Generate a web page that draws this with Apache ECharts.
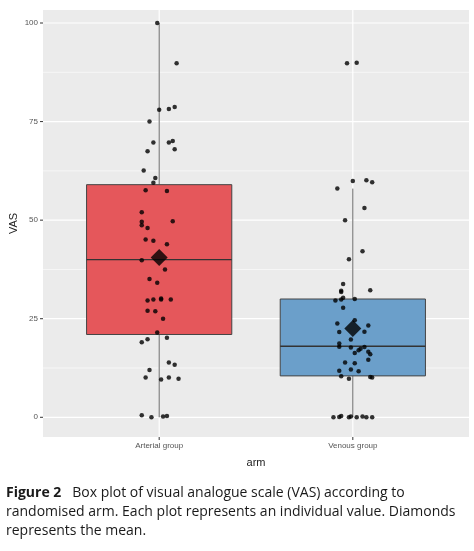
<!DOCTYPE html><html><head><meta charset="utf-8">
<script src="https://cdn.jsdelivr.net/npm/echarts@6/dist/echarts.min.js"></script>
<style>html,body{margin:0;padding:0;background:#fff}#c{width:474px;height:551px}</style></head><body><div id="c"></div>
<script>
const categories=['Arterial group','Venous group'];
const yTicks=[0,25,50,75,100];
const yMinor=[12.5,37.5,62.5,87.5];
// box stats: [x, min, q1, median, q3, max]
const boxStats=[[1,0,21,40,59,100],[2,0,10.5,18,30,58]];
const means=[[1,40.5],[2,22.5]];
const arterialPts=[[0.99,100],[1.09,89.8],[1.0,78],[1.05,78.2],[1.08,78.7],[0.95,75],[0.97,69.7],[1.05,69.7],[1.07,70.1],[0.94,67.5],[1.08,68],[0.92,62.6],[0.98,60.7],[0.97,59.5],[0.93,57.6],[1.04,57.4],[0.91,52],[1.07,49.7],[0.91,49.6],[0.91,48.7],[0.94,48],[0.93,45.1],[0.97,44.8],[1.04,43.9],[0.91,39.8],[1.03,37.5],[0.95,35.1],[0.99,34.1],[0.94,29.6],[0.97,29.9],[1.01,30.1],[1.01,29.9],[1.06,29.9],[0.94,27],[0.98,26.9],[1.02,25],[0.99,21.5],[0.91,19],[0.94,19.8],[1.04,20.2],[1.05,13.9],[1.08,13.3],[0.95,12],[0.93,10.1],[1.01,9.6],[1.05,10.1],[1.1,9.8],[0.91,0.5],[0.96,0],[1.02,0.2],[1.04,0.3]];
const venousPts=[[1.97,89.8],[2.02,89.9],[2.0,59.9],[2.07,60.1],[2.1,59.6],[1.92,58],[2.06,53.1],[1.96,50],[2.05,42.1],[1.98,40.1],[1.95,33.8],[1.94,32.1],[1.94,31.8],[2.09,32.2],[1.95,30.3],[1.94,29.9],[1.91,29.6],[2.01,30],[1.95,27.8],[1.92,23.8],[2.01,24.6],[2.08,23.3],[1.93,21.6],[2.06,21.7],[1.99,19.7],[1.93,18.7],[1.93,17.9],[1.99,17.7],[2.06,17.8],[2.04,17.4],[2.03,17],[2.08,16.6],[2.01,16.3],[2.09,16],[2.08,14.6],[1.96,13.9],[2.01,13.7],[1.99,12.1],[2.03,11.7],[1.93,11.8],[1.94,10.4],[1.98,9.8],[2.09,10.2],[2.1,10.1],[1.9,0],[1.93,0.1],[1.94,0.3],[1.98,0],[1.99,0.2],[2.02,0],[2.05,0.2],[2.07,0],[2.1,0]];
const boxColors=['#e5575b','#6b9fca'];

const chart=echarts.init(document.getElementById('c'),null,{renderer:'canvas'});
const gridData=[...yMinor.map(v=>['y',v,0.6]),...yTicks.map(v=>['y',v,1.2]),['x',1,1.2],['x',2,1.2]];
chart.setOption({
 animation:false,
 backgroundColor:'#fff',
 grid:{left:40,right:5,top:10,bottom:114,backgroundColor:'#ebebeb',show:true,borderWidth:0},
 xAxis:{type:'value',min:0.4,max:2.6,splitLine:{show:false},axisLine:{show:false},axisTick:{show:false},
   axisLabel:{show:false},name:'arm',nameLocation:'middle',nameGap:20,nameTextStyle:{fontFamily:'Liberation Sans',fontSize:11,color:'#222'}},
 yAxis:{type:'value',min:-5,max:103.3,splitLine:{show:false},axisLine:{show:false},axisTick:{show:false},
   axisLabel:{show:false},name:'VAS',nameLocation:'middle',nameGap:24,nameRotate:90,nameTextStyle:{fontFamily:'Liberation Sans',fontSize:11,color:'#222'}},
 series:[
  {type:'custom',z:1,silent:true,data:gridData.map((d,i)=>[i]),renderItem:(p,api)=>{
    const d=gridData[p.dataIndex];
    let a,b;
    if(d[0]==='y'){a=api.coord([0.4,d[1]]);b=api.coord([2.6,d[1]]);}
    else{a=api.coord([d[1],-5]);b=api.coord([d[1],103.3]);}
    return {type:'line',shape:{x1:a[0],y1:a[1],x2:b[0],y2:b[1]},style:{stroke:'#fff',lineWidth:d[2]}};
  }},
  {type:'custom',z:2,data:boxStats,renderItem:(p,api)=>{
    const x=api.value(0),hw=0.375;
    const mn=api.coord([x,api.value(1)]),q1=api.coord([x,api.value(2)]),md=api.coord([x,api.value(3)]),q3=api.coord([x,api.value(4)]),mx=api.coord([x,api.value(5)]);
    const l=api.coord([x-hw,0])[0],r=api.coord([x+hw,0])[0];
    return {type:'group',children:[
      {type:'line',shape:{x1:mn[0],y1:mn[1],x2:q1[0],y2:q1[1]},style:{stroke:'#666',lineWidth:1}},
      {type:'line',shape:{x1:q3[0],y1:q3[1],x2:mx[0],y2:mx[1]},style:{stroke:'#666',lineWidth:1}},
      {type:'rect',shape:{x:l,y:q3[1],width:r-l,height:q1[1]-q3[1]},style:{fill:boxColors[p.dataIndex],stroke:'#444',lineWidth:1}},
      {type:'line',shape:{x1:l,y1:md[1],x2:r,y2:md[1]},style:{stroke:'#333',lineWidth:1.4}}
    ]};
  }},
  {type:'scatter',z:3,data:arterialPts,symbolSize:4.5,itemStyle:{color:'#000'}},
  {type:'scatter',z:3,data:venousPts,symbolSize:4.5,itemStyle:{color:'#000'}},
  {type:'scatter',z:4,data:means,symbol:'diamond',symbolSize:[17,17],itemStyle:{color:'#000'}},
  {type:'custom',z:5,data:categories.map((c,i)=>[i+1]),renderItem:(p,api)=>{
    const pt=api.coord([api.value(0),-5]);
    return {type:'group',children:[
      {type:'line',shape:{x1:pt[0],y1:pt[1],x2:pt[0],y2:pt[1]+3},style:{stroke:'#333',lineWidth:1}},
      {type:'text',style:{text:categories[p.dataIndex],x:pt[0],y:pt[1]+5,align:'center',verticalAlign:'top',fontFamily:'Liberation Sans',fontSize:8,fill:'#555'}}]};
  }},
  {type:'custom',z:5,data:yTicks.map(v=>[v]),renderItem:(p,api)=>{
    const pt=api.coord([0.4,api.value(0)]);
    return {type:'group',children:[
      {type:'line',shape:{x1:pt[0]-3,y1:pt[1],x2:pt[0],y2:pt[1]},style:{stroke:'#333',lineWidth:1}},
      {type:'text',style:{text:String(api.value(0)),x:pt[0]-5,y:pt[1],align:'right',verticalAlign:'middle',fontFamily:'Liberation Sans',fontSize:8,fill:'#555'}}]};
  }}
 ],
 graphic:[{type:'text',left:6,top:484,style:{
   text:'{b|Figure 2}   Box plot of visual analogue scale (VAS) according to\nrandomised arm. Each plot represents an individual value. Diamonds\nrepresents the mean.',
   fontFamily:'Open Sans',fontSize:14,lineHeight:19,fill:'#1a1a1a',
   rich:{b:{fontFamily:'Open Sans',fontWeight:'bold',fontSize:14,fill:'#1a1a1a'}}}}]
});
</script></body></html>
